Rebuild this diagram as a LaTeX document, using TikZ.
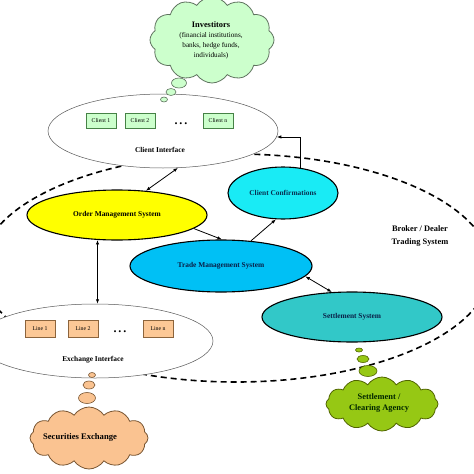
\documentclass[tikz,border=0pt]{standalone}
\usepackage{fontspec}
\setmainfont{Liberation Serif}
\usetikzlibrary{shapes.geometric,shapes.symbols,arrows.meta}
\definecolor{invfill}{RGB}{204,255,204}
\definecolor{invdraw}{RGB}{95,115,95}
\definecolor{clientdraw}{RGB}{70,130,70}
\definecolor{linefill}{RGB}{252,200,150}
\definecolor{linedraw}{RGB}{140,100,60}
\definecolor{secfill}{RGB}{250,195,145}
\definecolor{secdraw}{RGB}{120,85,50}
\definecolor{agfill}{RGB}{150,200,20}
\definecolor{agdraw}{RGB}{80,100,0}
\definecolor{omsfill}{RGB}{255,255,0}
\definecolor{ccfill}{RGB}{25,235,245}
\definecolor{tmsfill}{RGB}{0,192,245}
\definecolor{ssfill}{RGB}{50,200,200}
\definecolor{sysblue}{RGB}{10,30,70}
\begin{document}
\begin{tikzpicture}[x=1pt,y=-1pt,
  >={Latex[length=4.5pt,width=3.4pt]},
  sysell/.style={ellipse, draw=black, line width=1.1pt, inner sep=0pt, font=\fontsize{7.4}{8}\selectfont\bfseries},
  ifell/.style={ellipse, draw=black!65, line width=0.5pt, fill=white, inner sep=0pt},
  iftext/.style={font=\fontsize{7.4}{8}\selectfont\bfseries, inner sep=0pt},
  smallbox/.style={rectangle, draw, line width=0.6pt, minimum width=30pt, minimum height=15pt, inner sep=0pt, font=\fontsize{5.8}{6}\selectfont},
  dotstext/.style={font=\fontsize{12}{12}\selectfont\bfseries, inner sep=0pt, anchor=base},
  cloudnode/.style={cloud, cloud puffs=12, cloud puff arc=115, cloud ignores aspect, draw, line width=0.8pt, inner sep=0pt},
  bubble/.style={ellipse, draw, line width=0.6pt, inner sep=0pt},
  conn/.style={line width=0.8pt},
  bigtext/.style={font=\fontsize{8.4}{13}\selectfont\bfseries, align=center, inner sep=0pt}
]
\useasboundingbox[fill=white] (0,0) rectangle (474,474);

% boundary of the broker/dealer system
\draw[line width=1.6pt, dash pattern=on 6pt off 4pt] (236,268) ellipse [x radius=255, y radius=114];

% interfaces
\node[ifell, minimum width=230pt, minimum height=74pt] (ci) at (163,131) {};
\node[iftext] (citext) at (160,150) {Client Interface};
\node[smallbox, fill=invfill, draw=clientdraw] (c1) at (101,120.5) {Client 1};
\node[smallbox, fill=invfill, draw=clientdraw] (c2) at (140,120.5) {Client 2};
\node[dotstext] (cdots) at (181,124) {.\,.\,.};
\node[smallbox, fill=invfill, draw=clientdraw] (cn) at (218,120.5) {Client n};

\node[ifell, minimum width=236pt, minimum height=74pt] (ei) at (95,341) {};
\node[iftext] (eitext) at (93,360) {Exchange Interface};
\node[smallbox, fill=linefill, draw=linedraw, minimum height=17pt] (l1) at (40,329) {Line 1};
\node[smallbox, fill=linefill, draw=linedraw, minimum height=17pt] (l2) at (83,329) {Line 2};
\node[dotstext] (ldots) at (120,332.5) {.\,.\,.};
\node[smallbox, fill=linefill, draw=linedraw, minimum height=17pt] (ln) at (158,329) {Line n};

% systems
\node[sysell, fill=omsfill, minimum width=180pt, minimum height=50pt] (oms) at (117,215) {Order Management System};
\node[sysell, fill=ccfill, minimum width=110pt, minimum height=52pt, text=sysblue!80!teal] (cc) at (283,193) {Client Confirmations};
\node[sysell, fill=tmsfill, minimum width=182pt, minimum height=52pt, text=sysblue] (tms) at (221,266) {Trade Management System};
\node[sysell, fill=ssfill, minimum width=180pt, minimum height=50pt, text=sysblue] (ss) at (352,317) {Settlement System};

\node[bigtext] (broker) at (420,236) {Broker / Dealer\\Trading System};

% clouds
\node[cloudnode, fill=invfill, draw=invdraw, minimum width=124pt, minimum height=86pt] (inv) at (212,40) {};
\node[font=\fontsize{7.2}{10}\selectfont, align=center, inner sep=0pt] (invtext) at (211,40) {{\fontsize{8.4}{10}\selectfont\bfseries Investitors}\\(financial institutions,\\banks, hedge funds,\\individuals)};
\node[bubble, fill=invfill, draw=invdraw, minimum width=15pt, minimum height=10pt] (ib1) at (179,83) {};
\node[bubble, fill=invfill, draw=invdraw, minimum width=10pt, minimum height=7pt] (ib2) at (171,92) {};
\node[bubble, fill=invfill, draw=invdraw, minimum width=7pt, minimum height=5pt] (ib3) at (164,99.5) {};

\node[cloudnode, fill=secfill, draw=secdraw, minimum width=118pt, minimum height=62pt] (sec) at (89,438) {};
\node[bigtext, font=\fontsize{8.6}{10}\selectfont\bfseries] (sectext) at (80,437) {Securities Exchange};
\node[bubble, fill=secfill, draw=secdraw, minimum width=7pt, minimum height=5pt] (eb1) at (92,375) {};
\node[bubble, fill=secfill, draw=secdraw, minimum width=12pt, minimum height=8pt] (eb2) at (89,385) {};
\node[bubble, fill=secfill, draw=secdraw, minimum width=17pt, minimum height=11pt] (eb3) at (87,398) {};

\node[cloudnode, fill=agfill, draw=agdraw, minimum width=112pt, minimum height=54pt] (ag) at (382,404) {};
\node[bigtext, font=\fontsize{8.4}{10.5}\selectfont\bfseries, text=black!85!green] (agtext) at (379,403) {Settlement /\\Clearing Agency};
\node[bubble, fill=agfill, draw=agdraw, minimum width=7pt, minimum height=4pt] (ab1) at (359,350) {};
\node[bubble, fill=agfill, draw=agdraw, minimum width=12pt, minimum height=7pt] (ab2) at (363,359) {};
\node[bubble, fill=agfill, draw=agdraw, minimum width=18pt, minimum height=11pt] (ab3) at (368,371) {};

% connectors
\draw[conn, <->] (oms.40) -- (ci.-68);
\draw[conn, <->] (oms.-128) -- (oms.-128 |- ei.north);
\draw[conn, ->] (oms.-10) -- (tms.88);
\draw[conn, ->] (tms.40) -- (cc.-105);
\draw[conn, ->] (cc.55) |- (ci.-3);
\draw[conn, <->] (tms.-7) -- (ss.129);
\end{tikzpicture}
\end{document}
